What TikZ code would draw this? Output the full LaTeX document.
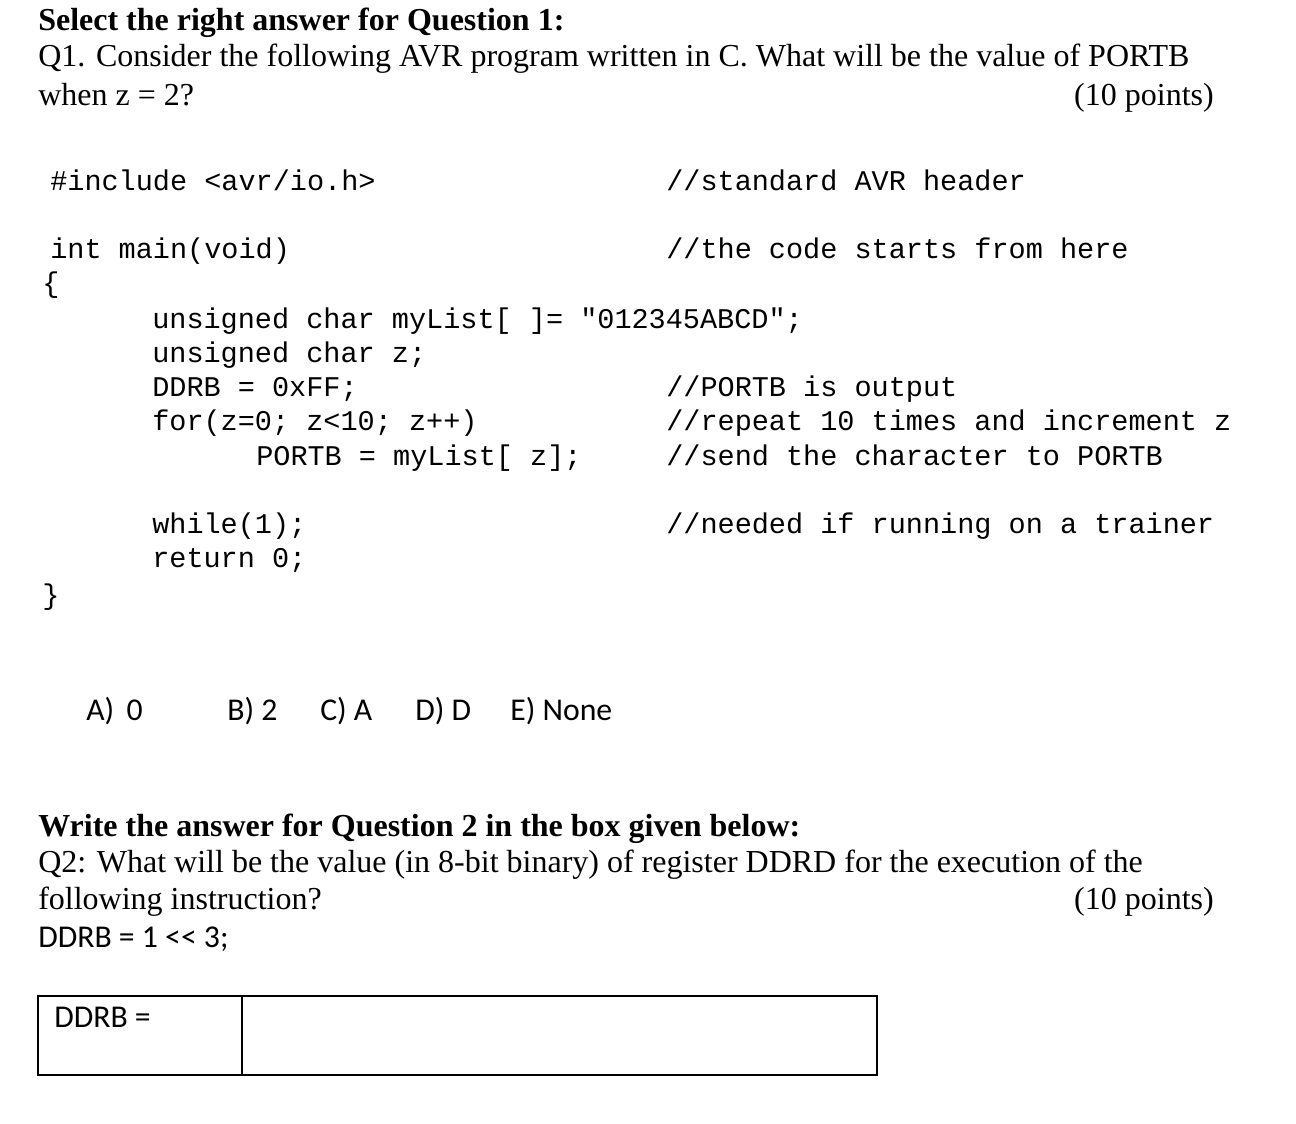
\documentclass[tikz,border=0pt]{standalone}
\usepackage{fontspec}
\setmainfont{Liberation Serif}
\newfontfamily\codefont{Liberation Mono}
\newfontfamily\ansfont{Carlito}
\begin{document}
\begin{tikzpicture}[x=0.75pt,y=-0.75pt,
  txt/.style={anchor=base west,inner sep=0pt,font=\fontsize{24}{28}\selectfont},
  hd/.style={txt,font=\fontsize{24}{28}\selectfont\bfseries},
  cd/.style={anchor=base west,inner sep=0pt,font=\codefont\fontsize{21.4}{24}\selectfont},
  an/.style={anchor=base west,inner sep=0pt,font=\ansfont\fontsize{23.8}{28}\selectfont},
  rt/.style={anchor=base east,inner sep=0pt,font=\fontsize{24}{28}\selectfont}]
\useasboundingbox[fill=white] (0,0) rectangle (1296,1124);
\node[hd] (h1) at (38,31) {Select the right answer for Question 1:};
\node[txt] (q1a) at (38,67) {Q1. Consider the following AVR program written in C. What will be the value of PORTB};
\node[txt] (q1b) at (38,105) {when z = 2?};
\node[rt] (p1) at (1214,105) {(10 points)};
\node[cd] (c1) at (50,190) {\#include <avr/io.h>};
\node[cd] (m1) at (666,190) {//standard AVR header};
\node[cd] (c2) at (50,258) {int main(void)};
\node[cd] (m2) at (666,258) {//the code starts from here};
\node[cd] (c3) at (42,292) {\{};
\node[cd] (c4) at (152,328) {unsigned char myList[ ]= "012345ABCD";};
\node[cd] (c5) at (152,362) {unsigned char z;};
\node[cd] (c6) at (152,396) {DDRB = 0xFF;};
\node[cd] (m6) at (666,396) {//PORTB is output};
\node[cd] (c7) at (152,430) {for(z=0; z<10; z++)};
\node[cd] (m7) at (666,430) {//repeat 10 times and increment z};
\node[cd] (c8) at (256,465) {PORTB = myList[ z];};
\node[cd] (m8) at (666,465) {//send the character to PORTB};
\node[cd] (c9) at (152,533) {while(1);};
\node[cd] (m9) at (666,533) {//needed if running on a trainer};
\node[cd] (c10) at (152,567) {return 0;};
\node[cd] (c11) at (42,604) {\}};
\node[an] (a) at (86,720) {A)\, 0};
\node[an] (b) at (227,720) {B) 2};
\node[an] (c) at (320,720) {C) A};
\node[an] (d) at (415,720) {D) D};
\node[an] (e) at (510,720) {E) None};
\node[hd] (h2) at (38,836) {Write the answer for Question 2 in the box given below:};
\node[txt] (q2a) at (38,872) {Q2: What will be the value (in 8-bit binary) of register DDRD for the execution of the};
\node[txt] (q2b) at (38,909) {following instruction?};
\node[rt] (p2) at (1214,909) {(10 points)};
\node[an] (ins) at (38,947) {DDRB = 1 << 3;};
\draw[line width=1.2pt] (38,996) rectangle (877,1075);
\draw[line width=1.2pt] (242,996) -- (242,1075);
\node[an] (bx) at (54,1027) {DDRB =};
\end{tikzpicture}
\end{document}
